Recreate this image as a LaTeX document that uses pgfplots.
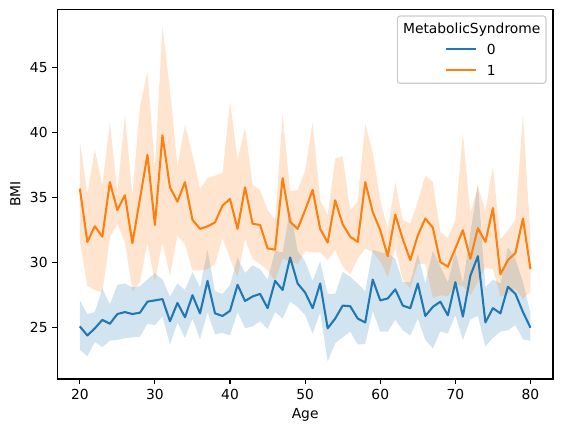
\documentclass[border=0pt]{standalone}
\usepackage{fontspec}
\setmainfont{DejaVu Sans}
\usepackage{pgfplots}
\pgfplotsset{compat=1.18}
\usepgfplotslibrary{fillbetween}
\usepackage{pgfplotstable}
\definecolor{c0}{HTML}{1F77B4}
\definecolor{c1}{HTML}{FF7F0E}

\pgfplotstableread{
age m0 lo0 hi0 m1 lo1 hi1
20 25.10 23.3 27.1 35.7 31.7 39.4
21 24.40 22.8 26.05 31.6 28.2 35.3
22 24.95 23.9 26.2 32.8 27.9 38.7
23 25.60 23.5 28.0 32.0 27.7 36.0
24 25.30 24.0 26.8 36.2 31.9 40.8
25 26.05 24.05 28.3 34.05 33.0 35.4
26 26.20 24.2 28.4 35.2 31.6 41.4
27 26.05 24.25 28.1 31.5 27.8 35.2
28 26.15 24.3 28.2 34.9 28.5 42.0
29 27.00 25.3 28.7 38.3 31.5 44.7
30 27.10 25.2 29.2 32.9 28.5 37.3
31 27.20 25.85 28.7 39.8 31.6 48.2
32 25.50 23.7 27.4 35.8 29.0 43.3
33 26.90 25.4 28.4 34.7 32.1 37.4
34 25.80 24.2 27.9 36.2 31.4 40.6
35 27.50 25.7 29.3 33.3 29.4 38.3
36 26.10 24.1 28.1 32.6 29.4 35.7
37 28.60 26.2 31.0 32.8 29.5 36.5
38 26.10 24.5 27.8 33.1 29.9 36.7
39 25.90 24.6 27.6 34.4 31.9 36.9
40 26.30 24.4 28.3 34.9 30.3 42.4
41 28.30 26.2 30.4 32.6 28.9 37.9
42 27.05 24.95 29.2 35.8 31.8 40.4
43 27.40 25.1 29.8 33.0 30.3 36.0
44 27.60 25.5 29.5 32.9 29.9 35.6
45 26.50 24.9 28.7 31.1 29.4 34.05
46 28.60 26.2 30.9 31.0 28.6 33.3
47 27.90 25.7 30.8 36.5 30.3 41.4
48 30.40 27.0 34.2 33.15 30.1 35.5
49 28.40 26.6 30.9 32.6 29.9 35.6
50 27.70 25.95 30.1 34.05 30.9 37.1
51 26.50 24.55 28.6 35.6 30.8 40.8
52 28.40 26.15 30.1 32.6 30.8 34.8
53 24.95 22.4 27.6 31.55 30.2 33.7
54 25.70 23.8 27.6 34.8 31.0 38.0
55 26.70 24.25 29.3 32.95 29.7 38.2
56 26.65 24.7 28.9 32.0 29.1 34.0
57 25.70 23.7 28.4 31.6 30.3 34.7
58 25.40 23.75 27.8 36.2 31.1 40.7
59 28.70 26.3 31.0 33.9 30.8 38.5
60 27.10 24.7 30.8 32.5 30.1 34.8
61 27.25 24.7 30.7 30.5 28.9 32.6
62 27.95 25.6 30.3 33.7 31.1 36.2
63 26.70 24.8 28.5 31.8 28.7 33.3
64 26.50 24.4 28.5 30.2 28.0 33.0
65 28.40 25.7 30.7 32.1 29.9 34.7
66 25.90 24.05 28.4 33.4 29.9 36.7
67 26.60 23.4 30.9 32.7 27.3 36.2
68 27.00 24.7 29.7 30.05 27.5 32.4
69 25.95 24.55 28.5 29.7 27.4 31.9
70 28.50 25.95 30.9 31.1 28.3 33.3
71 25.85 24.05 28.4 32.5 28.2 39.95
72 29.00 25.65 32.3 30.3 27.5 33.8
73 30.50 25.9 36.1 32.65 28.5 35.9
74 25.40 23.55 28.1 31.6 29.6 34.0
75 26.50 24.2 28.7 34.2 29.5 37.4
76 26.10 24.7 28.4 29.1 27.4 31.8
77 28.15 24.8 31.2 30.2 27.6 32.5
78 27.60 25.2 30.3 30.75 28.0 33.3
79 26.20 24.1 28.5 33.4 27.2 41.4
80 25.00 24.0 26.1 29.5 27.8 32.0
}\data

\begin{document}
\fontsize{10}{12}\selectfont
\begin{tikzpicture}
\begin{axis}[
  at={(0,0)}, anchor=south west,
  scale only axis, width=4.957in, height=3.697in,
  xmin=17, xmax=83, ymin=21.05, ymax=49.5,
  xtick={20,30,...,80}, ytick={25,30,...,45},
  tick align=outside, tick pos=left,
  major tick length=3.5pt,
  every tick/.style={black, line width=0.8pt},
  axis line style={line width=0.8pt},
  /pgf/number format/assume math mode=true,
  tick label style={font=\fontsize{10}{12}\selectfont},
  label style={font=\fontsize{10}{12}\selectfont},
  xlabel={Age}, ylabel={BMI},
]
\addplot[name path=hi0, draw=none, forget plot] table[x=age, y=hi0]{\data};
\addplot[name path=lo0, draw=none, forget plot] table[x=age, y=lo0]{\data};
\addplot[fill=c0, fill opacity=0.2, draw=none, forget plot] fill between[of=hi0 and lo0];
\addplot[name path=hi1, draw=none, forget plot] table[x=age, y=hi1]{\data};
\addplot[name path=lo1, draw=none, forget plot] table[x=age, y=lo1]{\data};
\addplot[fill=c1, fill opacity=0.2, draw=none, forget plot] fill between[of=hi1 and lo1];
\addplot[c0, line width=1.5pt, line join=round] table[x=age, y=m0]{\data};
\addplot[c1, line width=1.5pt, line join=round] table[x=age, y=m1]{\data};
\end{axis}
% legend
\draw[rounded corners=2pt, draw=black!20, line width=0.8pt, fill=white, fill opacity=0.8] (3.40in,2.957in) rectangle (4.887in,3.63in);
\node[anchor=center] at (4.144in,3.497in) {MetabolicSyndrome};
\draw[c0, line width=1.5pt] (3.887in,3.297in) -- (4.187in,3.297in);
\node[anchor=west, inner sep=0pt] at (4.294in,3.297in) {0};
\draw[c1, line width=1.5pt] (3.887in,3.09in) -- (4.187in,3.09in);
\node[anchor=west, inner sep=0pt] at (4.294in,3.09in) {1};
\pgfresetboundingbox
\path[use as bounding box] (-0.573in,-0.53in) rectangle (5.047in,3.79in);
\end{tikzpicture}
\end{document}
